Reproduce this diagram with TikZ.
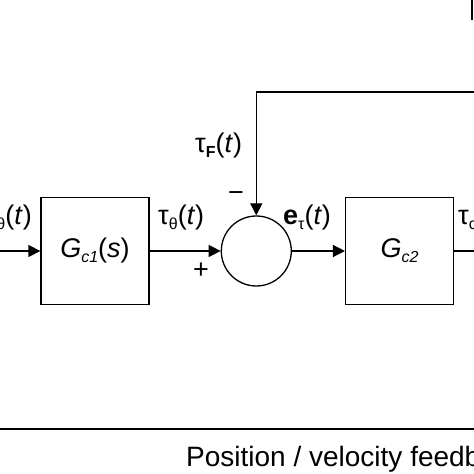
\documentclass[tikz,border=0pt]{standalone}
\usepackage{fontspec}
\setmainfont{Liberation Sans}
\usetikzlibrary{arrows.meta, positioning}

\newcommand{\lsub}[1]{\raisebox{-5pt}{\fontsize{16}{16}\selectfont #1}}

\begin{document}
\begin{tikzpicture}[
  x=1pt, y=1pt,
  block/.style={draw, line width=1.3pt, minimum width=108pt, minimum height=107pt,
    font=\fontsize{27}{30}\selectfont},
  sumjunc/.style={circle, draw, line width=1.3pt, minimum size=70pt, inner sep=0pt},
  sig/.style={inner sep=0pt, font=\fontsize{27}{30}\selectfont},
  link/.style={line width=1.3pt, -{Triangle[length=12pt,width=12pt]}},
  plain/.style={line width=1.3pt}]

  \useasboundingbox (0,0) rectangle (474,474);
  \clip (0,0) rectangle (474,474);

  % blocks and summing junction
  \node[block] (gcone) at (95,223) {\textit{G}\lsub{\textit{c1}}(\textit{s})};
  \node[sumjunc, right=71pt of gcone] (sum) {};
  \node[block, right=53pt of sum] (gctwo) {\textit{G}\lsub{\textit{c2}}};

  \coordinate (in) at (0,223);
  \coordinate (out) at (480,223);
  \coordinate (fbk) at (480,382);
  \coordinate (corner) at (sum |- fbk);
  \coordinate (rulel) at (0,45);
  \coordinate (ruler) at (480,45);
  \coordinate (marka) at (472,454);
  \coordinate (markb) at (472,480);

  % signal flow
  \draw[link] (in) -- (gcone);
  \draw[link] (gcone) -- (sum);
  \draw[link] (sum) -- (gctwo);
  \draw[plain] (gctwo) -- (out);
  \draw[link] (fbk) -- (corner) -- (sum);
  \draw[plain] (rulel) -- (ruler);
  \draw[line width=2.2pt] (marka) -- (markb);

  % labels
  \node[sig, anchor=base east] (inlbl) at (32,249) {\textbf{e}\lsub{θ}(\textit{t})};
  \node[sig, anchor=base west] (tthlbl) at (158,249) {τ\lsub{θ}(\textit{t})};
  \node[sig, anchor=base west] (etaulbl) at (283,249) {\textbf{e}\lsub{τ}(\textit{t})};
  \node[sig, anchor=base west] (tflbl) at (195,321) {τ\lsub{\textbf{F}}(\textit{t})};
  \node[sig, anchor=base west] (outlbl) at (458,249) {τ\lsub{c}(\textit{t})};
  \node[sig] (plus) at (201,203) {+};
  \node[sig] (minus) at (236,277) {\textminus};
  \node[inner sep=0pt, anchor=base west, font=\fontsize{28}{30}\selectfont] (caption)
    at (186,7) {Position / velocity feedback};
\end{tikzpicture}
\end{document}
